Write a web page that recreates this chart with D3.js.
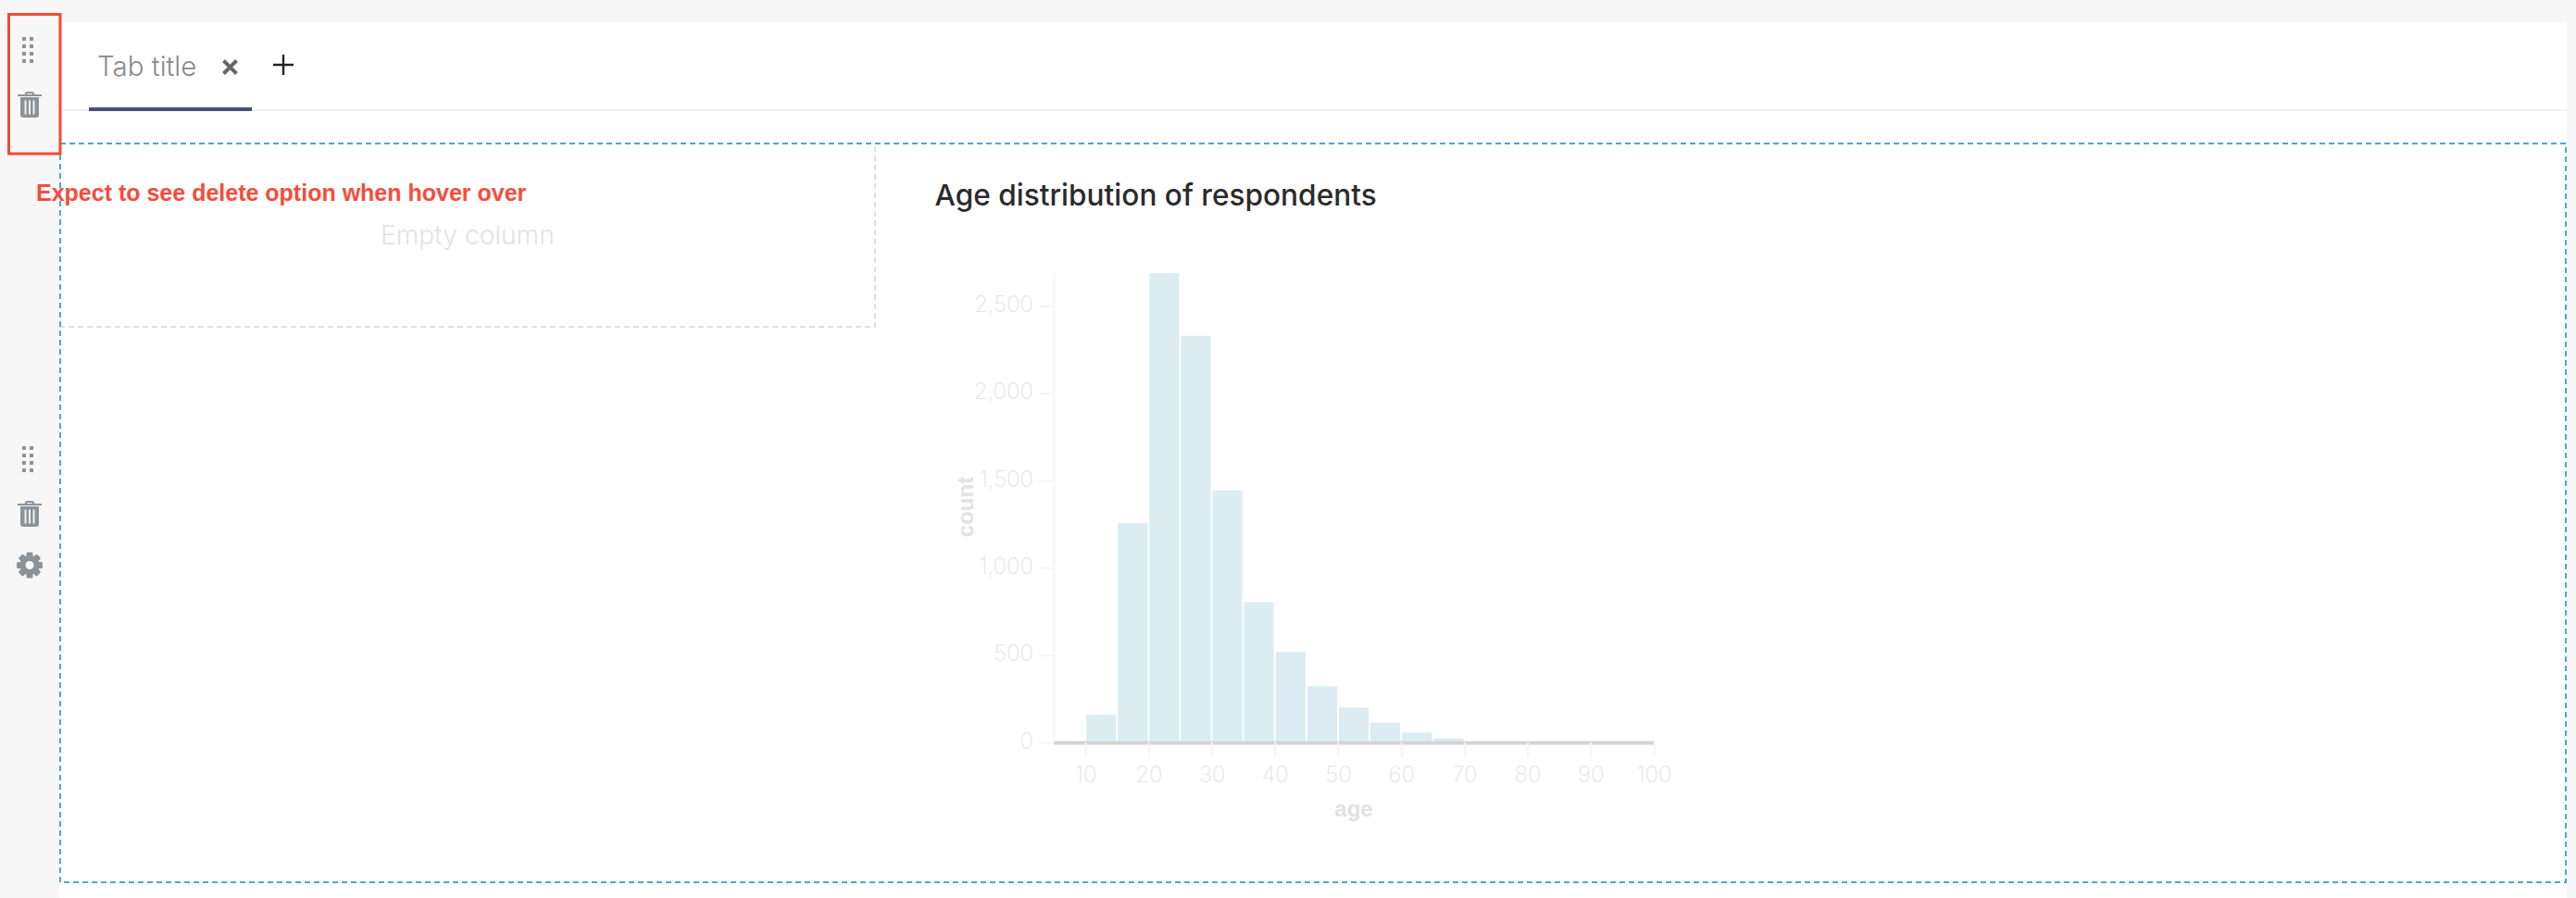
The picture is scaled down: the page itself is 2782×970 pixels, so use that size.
<!DOCTYPE html>
<html>
<head>
<meta charset="utf-8">
<script src="https://cdn.jsdelivr.net/npm/d3@7"></script>
<style>
html, body { margin: 0; padding: 0; background: #f7f7f7; overflow: hidden; }
svg { display: block; }
.axis text { font-family: Inter, sans-serif; font-weight: 200; font-size: 24px; fill: #e4e4e4; }
.axis line, .axis path { stroke: #f5f5f5; stroke-width: 2; }
</style>
</head>
<body>
<svg id="page" width="2782" height="970"></svg>
<script>
// histogram values
var binStarts = [10, 15, 20, 25, 30, 35, 40, 45, 50, 55, 60, 65];
var binCounts = [159, 1255, 2687, 2328, 1444, 804, 518, 322, 200, 113, 57, 23];
var binSize = 5;
var xTicks = [10, 20, 30, 40, 50, 60, 70, 80, 90, 100];
var yTicks = [0, 500, 1000, 1500, 2000, 2500];

var svg = d3.select("#page");

// white panel + tab bar
svg.append("rect").attr("x", 64).attr("y", 24).attr("width", 2708).attr("height", 946).attr("fill", "#fff");
svg.append("rect").attr("x", 67).attr("y", 118).attr("width", 2705).attr("height", 2).attr("fill", "#f0f0f0");
svg.append("rect").attr("x", 96).attr("y", 116).attr("width", 176).attr("height", 4).attr("fill", "#484f7f");

svg.append("text").attr("x", 105).attr("y", 82).text("Tab title")
    .style("font-family", "Inter").style("font-weight", 300).style("font-size", "29.5px").style("fill", "#8a8a8a");
// close cross
svg.append("path").attr("d", "M241.5,65.5L255.5,79.5M255.5,65.5L241.5,79.5")
    .attr("stroke", "#666").attr("stroke-width", 4).attr("fill", "none");
// add plus
svg.append("path").attr("d", "M306,59V81M295,70H317")
    .attr("stroke", "#222").attr("stroke-width", 2.4).attr("fill", "none");

// dashed boxes
svg.append("path").attr("d", "M64,353H945V155")
    .attr("fill", "none").attr("stroke", "#e0e0e0").attr("stroke-width", 2).attr("stroke-dasharray", "6 4");
svg.append("rect").attr("x", 65).attr("y", 155).attr("width", 2706).attr("height", 798)
    .attr("fill", "none").attr("stroke", "#4fa8c8").attr("stroke-width", 2).attr("stroke-dasharray", "6 4");

// left toolbar icons
function dots(y0) {
    [0, 1, 2, 3].forEach(function (r) {
        [24, 32].forEach(function (x) {
            svg.append("rect").attr("x", x).attr("y", y0 + r * 8).attr("width", 4).attr("height", 4).attr("fill", "#8b9398");
        });
    });
}
function trash(x0, y0) {
    var g = svg.append("g").attr("transform", "translate(" + x0 + "," + y0 + ")");
    g.append("path").attr("d", "M0,4H26M9,4V2.5Q9,1 10.5,1H15.5Q17,1 17,2.5V4")
        .attr("fill", "none").attr("stroke", "#8b9398").attr("stroke-width", 2.2);
    g.append("path").attr("d", "M3,6H23V25Q23,28 20,28H6Q3,28 3,25Z").attr("fill", "#8b9398");
    [7.5, 12, 16.5].forEach(function (x) {
        g.append("rect").attr("x", x).attr("y", 9.5).attr("width", 2).attr("height", 15).attr("fill", "#f0f0f0");
    });
}
function gear(cx, cy) {
    var g = svg.append("g").attr("transform", "translate(" + cx + "," + cy + ")");
    g.append("circle").attr("r", 10.5).attr("fill", "#8b9398");
    d3.range(8).forEach(function (i) {
        g.append("rect").attr("x", -3.5).attr("y", -14).attr("width", 7).attr("height", 7).attr("rx", 1.5)
            .attr("fill", "#8b9398").attr("transform", "rotate(" + (i * 45) + ")");
    });
    g.append("circle").attr("r", 4.5).attr("fill", "#f7f7f7");
}
dots(40);
trash(19, 99);
dots(482);
trash(19, 541);
gear(32, 610.5);

// annotation
svg.append("rect").attr("x", 9.5).attr("y", 15.5).attr("width", 55.5).attr("height", 150.5)
    .attr("fill", "none").attr("stroke", "#f44a2f").attr("stroke-width", 3);
svg.append("text").attr("x", 39).attr("y", 217).text("Expect to see delete option when hover over")
    .style("font-family", "Liberation Sans").style("font-weight", 700).style("font-size", "25px").style("fill", "#f44d3c");

svg.append("text").attr("x", 411).attr("y", 263.5).text("Empty column")
    .style("font-family", "Inter").style("font-weight", 300).style("font-size", "28.2px").style("fill", "#e3e3e3");

// chart
svg.append("text").attr("x", 1009.5).attr("y", 222).text("Age distribution of respondents")
    .style("font-family", "Inter").style("font-weight", 500).style("font-size", "31.6px").style("fill", "#2b2b2b");

var x = d3.scaleLinear().domain([5, 100]).range([1138, 1786]);
var y = d3.scaleLinear().domain([0, d3.max(binCounts)]).range([802, 295]);

var yAxis = svg.append("g").attr("class", "axis").attr("transform", "translate(1138,0)")
    .call(d3.axisLeft(y).tickValues(yTicks).tickFormat(d3.format(",")).tickSize(16).tickPadding(6).tickSizeOuter(0));
yAxis.selectAll("text").attr("dy", "0.26em");

svg.append("g").selectAll("rect").data(binStarts).join("rect")
    .attr("x", function (d) { return x(d) + 1; })
    .attr("y", function (d, i) { return y(binCounts[i]); })
    .attr("width", function (d) { return x(d + binSize) - x(d) - 2; })
    .attr("height", function (d, i) { return y(0) - y(binCounts[i]); })
    .attr("fill", "#dcecf3");

var xAxis = svg.append("g").attr("class", "axis").attr("transform", "translate(0,802)")
    .call(d3.axisBottom(x).tickValues(xTicks).tickSize(16).tickPadding(10).tickSizeOuter(0));
xAxis.select(".domain").style("stroke", "#d4d4d4").style("stroke-width", 4);

svg.append("text").attr("x", 1462).attr("y", 882).attr("text-anchor", "middle").text("age")
    .style("font-family", "Liberation Sans").style("font-weight", 700).style("font-size", "24px").style("fill", "#e2e2e2");
svg.append("text").attr("transform", "translate(1051,547.5) rotate(-90)").attr("text-anchor", "middle").text("count")
    .style("font-family", "Liberation Sans").style("font-weight", 700).style("font-size", "24px").style("fill", "#e2e2e2");
</script>
</body>
</html>
